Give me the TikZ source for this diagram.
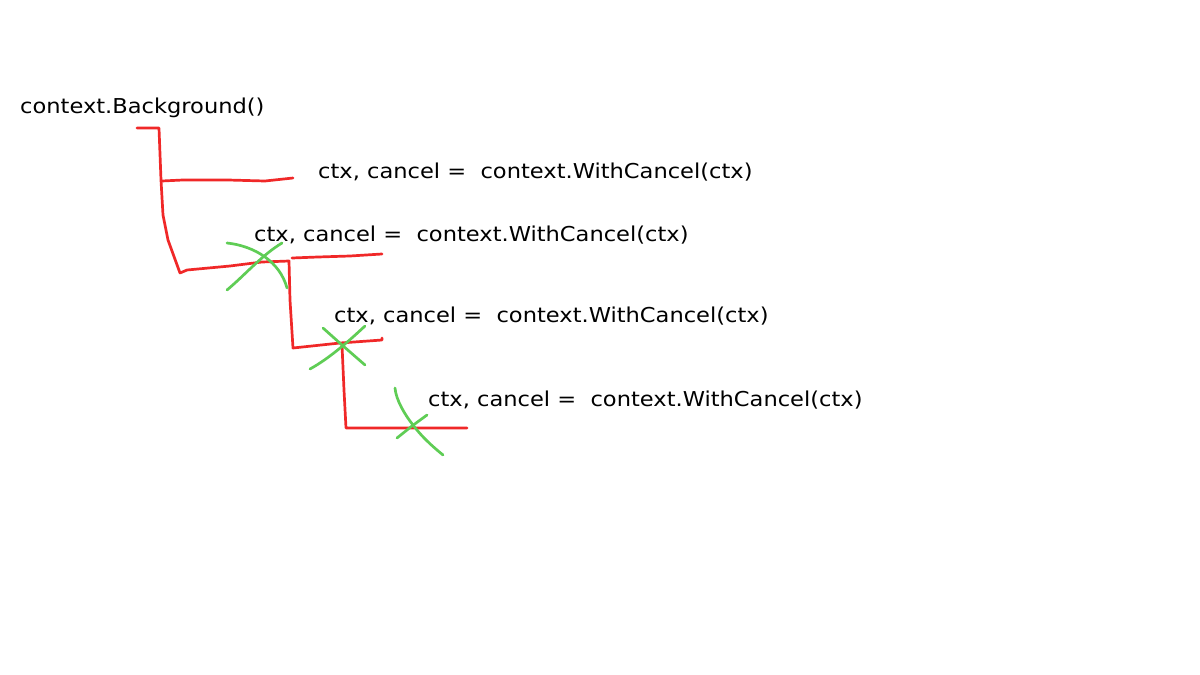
\documentclass[tikz,border=0pt]{standalone}
\usepackage{fontspec}
\setmainfont{DejaVu Sans}
\definecolor{penred}{RGB}{240,40,40}
\definecolor{pengreen}{RGB}{95,205,85}
\newcommand{\wtxt}[1]{\scalebox{1.1}[1]{#1}}
\begin{document}
\begin{tikzpicture}[x=1pt,y=-1pt,
  lbl/.style={anchor=base west,inner sep=0pt,font=\fontsize{20.5}{24}\selectfont},
  redpen/.style={draw=penred,line width=2.7pt,line cap=round,line join=round},
  greenpen/.style={draw=pengreen,line width=2.7pt,line cap=round,line join=round}]
\useasboundingbox[fill=white] (0,0) rectangle (1200,675);
\node[lbl] (bg) at (20,113) {\wtxt{context.Background()}};
\node[lbl] (c1) at (318,178) {\wtxt{ctx, cancel =\ \ context.WithCancel(ctx)}};
\node[lbl] (c2) at (254,241) {\wtxt{ctx, cancel =\ \ context.WithCancel(ctx)}};
\node[lbl] (c3) at (334,322) {\wtxt{ctx, cancel =\ \ context.WithCancel(ctx)}};
\node[lbl] (c4) at (428,406) {\wtxt{ctx, cancel =\ \ context.WithCancel(ctx)}};
% red tree
\draw[redpen] (137,128) -- (159,128) -- (161,180) -- (163,215) -- (168,240) -- (180,273) -- (187,270) -- (230,266) -- (262,262) -- (289,261) -- (290,300) -- (293,348) -- (340,343) -- (382,340) -- (382,338);
\draw[redpen] (162,181) -- (183,180) -- (228,180) -- (265,181) -- (293,178);
\draw[redpen] (292,258) -- (318,257) -- (350,256) -- (382,254);
\draw[redpen] (342,345) -- (344,390) -- (346,428) -- (400,428) -- (467,428);
% green crosses
\draw[greenpen] (227,243) .. controls (255,246) and (280,262) .. (287,288);
\draw[greenpen] (282,243) .. controls (262,255) and (245,275) .. (227,290);
\draw[greenpen] (323,328) -- (342,345) -- (365,365);
\draw[greenpen] (365,326) .. controls (350,340) and (330,358) .. (310,369);
\draw[greenpen] (395,388) .. controls (396,400) and (405,415) .. (413,425) .. controls (422,437) and (432,446) .. (443,455);
\draw[greenpen] (427,415) -- (412,426) -- (397,438);
\end{tikzpicture}
\end{document}
